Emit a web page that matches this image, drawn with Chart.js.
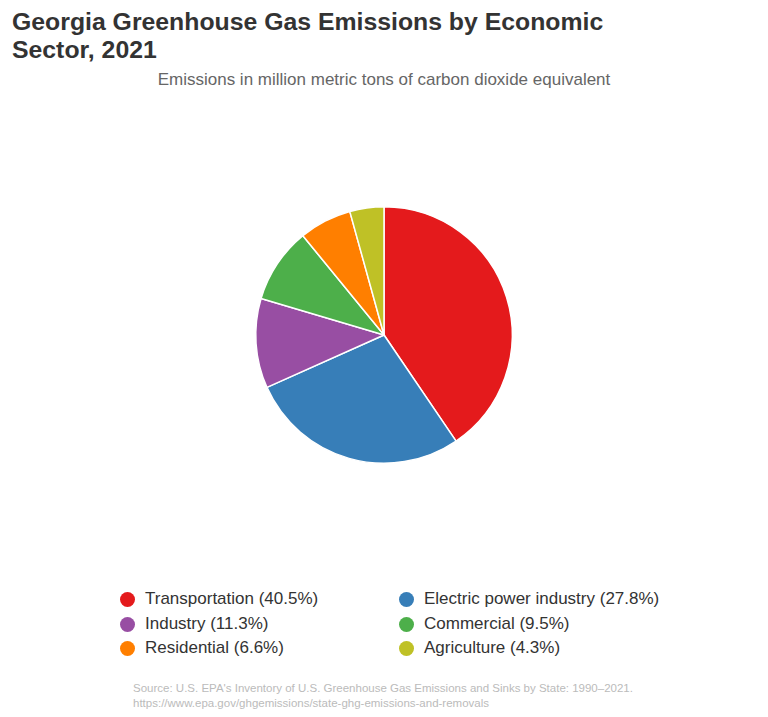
<!DOCTYPE html>
<html>
<head>
<meta charset="utf-8">
<script src="https://cdn.jsdelivr.net/npm/chart.js@4/dist/chart.umd.min.js"></script>
<style>
  html, body { margin:0; padding:0; background:#fff; }
  body { width:768px; height:717px; position:relative; overflow:hidden; font-family:"Liberation Sans", Arial, sans-serif; }
  #title { position:absolute; left:12px; top:8px; font-size:24.8px; font-weight:bold; color:#333; line-height:28px; }
  #subtitle { position:absolute; left:0; width:768px; top:70px; text-align:center; font-size:17px; color:#666; }
  #wrap { position:absolute; left:0; top:206px; width:768px; height:258px; }
  #legend { position:absolute; left:0; top:589px; width:768px; }
  .item { position:absolute; font-size:17px; color:#333; white-space:nowrap; line-height:20px; }
  .dot { position:absolute; width:15px; height:15px; border-radius:50%; top:3px; }
  #source { position:absolute; left:133px; top:681px; font-size:11.5px; color:#bbb; line-height:15px; }
</style>
</head>
<body>
<div id="title">Georgia Greenhouse Gas Emissions by Economic<br>Sector, 2021</div>
<div id="subtitle">Emissions in million metric tons of carbon dioxide equivalent</div>
<div id="wrap"><canvas id="c" width="768" height="258"></canvas></div>
<div id="legend"></div>
<div id="source">Source: U.S. EPA's Inventory of U.S. Greenhouse Gas Emissions and Sinks by State: 1990–2021.<br>https://www.epa.gov/ghgemissions/state-ghg-emissions-and-removals</div>
<script>
const categories = ["Transportation", "Electric power industry", "Industry", "Commercial", "Residential", "Agriculture"];
const shares = [40.5, 27.8, 11.3, 9.5, 6.6, 4.3];
const colors = ["#e41a1c", "#377eb8", "#984ea3", "#4daf4a", "#ff7f00", "#bfc126"];

new Chart(document.getElementById("c"), {
  type: "pie",
  data: {
    labels: categories,
    datasets: [{ data: shares, backgroundColor: colors, borderColor: "#fff", borderWidth: 1.5 }]
  },
  options: {
    responsive: false,
    animation: false,
    layout: { padding: 0 },
    plugins: { legend: { display: false }, tooltip: { enabled: false } }
  }
});

// legend, two columns, order row-major
const legend = document.getElementById("legend");
const colX = [145, 424];
const rowY = [0, 24.5, 49];
categories.forEach((name, i) => {
  const col = i % 2, row = Math.floor(i / 2);
  const d = document.createElement("div");
  d.className = "item";
  d.style.left = colX[col] + "px";
  d.style.top = rowY[row] + "px";
  d.textContent = name + " (" + shares[i] + "%)";
  const dot = document.createElement("span");
  dot.className = "dot";
  dot.style.left = "-25px";
  dot.style.background = colors[i];
  d.appendChild(dot);
  legend.appendChild(d);
});
</script>
</body>
</html>
